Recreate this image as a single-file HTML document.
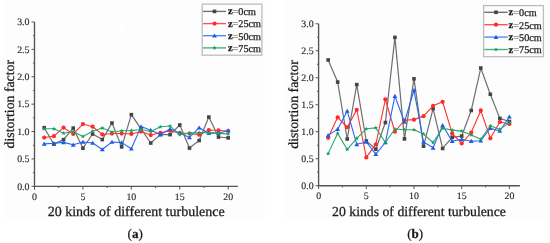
<!DOCTYPE html>
<html><head><meta charset="utf-8"><title>distortion factor</title>
<style>
html,body{margin:0;padding:0;background:#fff;}
body{width:550px;height:243px;overflow:hidden;}
svg{display:block;text-rendering:geometricPrecision;}
text{font-family:"Liberation Serif", "Times New Roman", serif;fill:#1a1a1a;stroke:#1a1a1a;stroke-width:0.25px;}
.tl{font-size:9.9px;fill:#2a2a2a;stroke:#2a2a2a;stroke-width:0.15px;}
.lg{font-size:10.2px;fill:#1a1a1a;}
.z{font-weight:bold;font-size:10.6px;}
.eq{fill:#8a8a8a;stroke:#8a8a8a;}
.cap{font-size:13px;}
.capb{font-weight:bold;}
</style></head>
<body>
<svg width="550" height="243" viewBox="0 0 550 243">
<rect width="550" height="243" fill="#fff"/>
<rect x="2" y="0" width="263" height="218" fill="#fdfdfd"/>
<rect x="283" y="0" width="264" height="218.5" fill="#fdfdfd"/>
<rect x="118.6" y="23.8" width="7" height="7.8" fill="#fff"/>
<path d="M34.50,21.99 V186.30 H237.89" fill="none" stroke="#555555" stroke-width="1.35"/>
<path d="M31.50,186.30 H34.50 M32.90,172.61 H34.50 M31.50,158.92 H34.50 M32.90,145.22 H34.50 M31.50,131.53 H34.50 M32.90,117.84 H34.50 M31.50,104.15 H34.50 M32.90,90.45 H34.50 M31.50,76.76 H34.50 M32.90,63.07 H34.50 M31.50,49.38 H34.50 M32.90,35.68 H34.50 M31.50,21.99 H34.50 M34.50,186.30 V189.60 M58.71,186.30 V188.00 M82.93,186.30 V189.60 M107.14,186.30 V188.00 M131.35,186.30 V189.60 M155.56,186.30 V188.00 M179.78,186.30 V189.60 M203.99,186.30 V188.00 M228.20,186.30 V189.60" fill="none" stroke="#555555" stroke-width="1"/>
<text x="29.50" y="189.60" text-anchor="end" class="tl">0.0</text>
<text x="29.50" y="162.22" text-anchor="end" class="tl">0.5</text>
<text x="29.50" y="134.83" text-anchor="end" class="tl">1.0</text>
<text x="29.50" y="107.45" text-anchor="end" class="tl">1.5</text>
<text x="29.50" y="80.06" text-anchor="end" class="tl">2.0</text>
<text x="29.50" y="52.67" text-anchor="end" class="tl">2.5</text>
<text x="29.50" y="25.29" text-anchor="end" class="tl">3.0</text>
<text x="34.50" y="199.90" text-anchor="middle" class="tl">0</text>
<text x="82.93" y="199.90" text-anchor="middle" class="tl">5</text>
<text x="131.35" y="199.90" text-anchor="middle" class="tl">10</text>
<text x="179.78" y="199.90" text-anchor="middle" class="tl">15</text>
<text x="228.20" y="199.90" text-anchor="middle" class="tl">20</text>
<text x="136.20" y="216.00" text-anchor="middle" style="font-size:14.0px">20 kinds of different turbulence</text>
<text transform="translate(14.40,104.20) rotate(-90)" text-anchor="middle" style="font-size:13.8px">distortion factor</text>
<text x="135.20" y="237.70" text-anchor="middle" class="cap">(<tspan class="capb">a</tspan>)</text>
<polyline points="44.19,127.70 53.87,144.13 63.55,139.64 73.24,128.13 82.93,148.23 92.61,133.99 102.30,139.58 111.98,123.04 121.67,146.87 131.35,114.66 141.04,128.96 150.72,143.03 160.41,134.65 170.09,134.65 179.78,124.96 189.46,148.07 199.15,140.51 208.83,117.07 218.52,137.01 228.20,137.88" fill="none" stroke="#6e6e6e" stroke-width="1.2" stroke-linejoin="round"/>
<rect x="42.39" y="125.90" width="3.60" height="3.60" fill="#444444"/>
<rect x="52.07" y="142.33" width="3.60" height="3.60" fill="#444444"/>
<rect x="61.76" y="137.84" width="3.60" height="3.60" fill="#444444"/>
<rect x="71.44" y="126.33" width="3.60" height="3.60" fill="#444444"/>
<rect x="81.13" y="146.43" width="3.60" height="3.60" fill="#444444"/>
<rect x="90.81" y="132.19" width="3.60" height="3.60" fill="#444444"/>
<rect x="100.50" y="137.78" width="3.60" height="3.60" fill="#444444"/>
<rect x="110.18" y="121.24" width="3.60" height="3.60" fill="#444444"/>
<rect x="119.87" y="145.07" width="3.60" height="3.60" fill="#444444"/>
<rect x="129.55" y="112.86" width="3.60" height="3.60" fill="#444444"/>
<rect x="139.24" y="127.16" width="3.60" height="3.60" fill="#444444"/>
<rect x="148.92" y="141.23" width="3.60" height="3.60" fill="#444444"/>
<rect x="158.60" y="132.85" width="3.60" height="3.60" fill="#444444"/>
<rect x="168.29" y="132.85" width="3.60" height="3.60" fill="#444444"/>
<rect x="177.97" y="123.16" width="3.60" height="3.60" fill="#444444"/>
<rect x="187.66" y="146.27" width="3.60" height="3.60" fill="#444444"/>
<rect x="197.34" y="138.71" width="3.60" height="3.60" fill="#444444"/>
<rect x="207.03" y="115.27" width="3.60" height="3.60" fill="#444444"/>
<rect x="216.72" y="135.21" width="3.60" height="3.60" fill="#444444"/>
<rect x="226.40" y="136.08" width="3.60" height="3.60" fill="#444444"/>
<polyline points="44.19,137.55 53.87,136.19 63.55,127.59 73.24,133.99 82.93,124.08 92.61,126.71 102.30,134.43 111.98,133.56 121.67,133.56 131.35,133.94 141.04,131.53 150.72,135.09 160.41,132.73 170.09,130.76 179.78,133.17 189.46,133.56 199.15,134.65 208.83,130.05 218.52,130.43 228.20,130.98" fill="none" stroke="#ff3030" stroke-width="1.1" stroke-linejoin="round"/>
<circle cx="44.19" cy="137.55" r="2.10" fill="#ff2a2a"/>
<circle cx="53.87" cy="136.19" r="2.10" fill="#ff2a2a"/>
<circle cx="63.55" cy="127.59" r="2.10" fill="#ff2a2a"/>
<circle cx="73.24" cy="133.99" r="2.10" fill="#ff2a2a"/>
<circle cx="82.93" cy="124.08" r="2.10" fill="#ff2a2a"/>
<circle cx="92.61" cy="126.71" r="2.10" fill="#ff2a2a"/>
<circle cx="102.30" cy="134.43" r="2.10" fill="#ff2a2a"/>
<circle cx="111.98" cy="133.56" r="2.10" fill="#ff2a2a"/>
<circle cx="121.67" cy="133.56" r="2.10" fill="#ff2a2a"/>
<circle cx="131.35" cy="133.94" r="2.10" fill="#ff2a2a"/>
<circle cx="141.04" cy="131.53" r="2.10" fill="#ff2a2a"/>
<circle cx="150.72" cy="135.09" r="2.10" fill="#ff2a2a"/>
<circle cx="160.41" cy="132.73" r="2.10" fill="#ff2a2a"/>
<circle cx="170.09" cy="130.76" r="2.10" fill="#ff2a2a"/>
<circle cx="179.78" cy="133.17" r="2.10" fill="#ff2a2a"/>
<circle cx="189.46" cy="133.56" r="2.10" fill="#ff2a2a"/>
<circle cx="199.15" cy="134.65" r="2.10" fill="#ff2a2a"/>
<circle cx="208.83" cy="130.05" r="2.10" fill="#ff2a2a"/>
<circle cx="218.52" cy="130.43" r="2.10" fill="#ff2a2a"/>
<circle cx="228.20" cy="130.98" r="2.10" fill="#ff2a2a"/>
<polyline points="44.19,143.85 53.87,143.31 63.55,142.37 73.24,144.84 82.93,141.94 92.61,143.03 102.30,149.49 111.98,141.94 121.67,142.59 131.35,148.78 141.04,126.60 150.72,130.16 160.41,134.43 170.09,128.96 179.78,132.90 189.46,137.45 199.15,127.70 208.83,133.17 218.52,133.17 228.20,130.43" fill="none" stroke="#2a66f0" stroke-width="1.1" stroke-linejoin="round"/>
<polygon points="44.19,141.55 46.60,145.69 41.77,145.69" fill="#1f5ce6"/>
<polygon points="53.87,141.01 56.29,145.15 51.46,145.15" fill="#1f5ce6"/>
<polygon points="63.55,140.07 65.97,144.21 61.14,144.21" fill="#1f5ce6"/>
<polygon points="73.24,142.54 75.66,146.68 70.83,146.68" fill="#1f5ce6"/>
<polygon points="82.93,139.64 85.34,143.78 80.51,143.78" fill="#1f5ce6"/>
<polygon points="92.61,140.73 95.03,144.87 90.19,144.87" fill="#1f5ce6"/>
<polygon points="102.30,147.19 104.71,151.33 99.88,151.33" fill="#1f5ce6"/>
<polygon points="111.98,139.64 114.40,143.78 109.56,143.78" fill="#1f5ce6"/>
<polygon points="121.67,140.29 124.08,144.43 119.25,144.43" fill="#1f5ce6"/>
<polygon points="131.35,146.48 133.77,150.62 128.94,150.62" fill="#1f5ce6"/>
<polygon points="141.04,124.30 143.45,128.44 138.62,128.44" fill="#1f5ce6"/>
<polygon points="150.72,127.86 153.13,132.00 148.31,132.00" fill="#1f5ce6"/>
<polygon points="160.41,132.13 162.82,136.27 157.99,136.27" fill="#1f5ce6"/>
<polygon points="170.09,126.66 172.50,130.80 167.68,130.80" fill="#1f5ce6"/>
<polygon points="179.78,130.60 182.19,134.74 177.36,134.74" fill="#1f5ce6"/>
<polygon points="189.46,135.15 191.88,139.29 187.05,139.29" fill="#1f5ce6"/>
<polygon points="199.15,125.40 201.56,129.54 196.73,129.54" fill="#1f5ce6"/>
<polygon points="208.83,130.87 211.25,135.01 206.42,135.01" fill="#1f5ce6"/>
<polygon points="218.52,130.87 220.93,135.01 216.10,135.01" fill="#1f5ce6"/>
<polygon points="228.20,128.13 230.62,132.27 225.79,132.27" fill="#1f5ce6"/>
<polyline points="44.19,128.79 53.87,128.79 63.55,133.23 73.24,131.53 82.93,136.51 92.61,131.20 102.30,128.08 111.98,132.08 121.67,130.76 131.35,130.65 141.04,129.50 150.72,131.53 160.41,126.77 170.09,126.05 179.78,134.65 189.46,133.17 199.15,132.63 208.83,132.63 218.52,133.17 228.20,134.10" fill="none" stroke="#2aa86a" stroke-width="1.1" stroke-linejoin="round"/>
<polygon points="44.19,126.49 44.77,127.98 46.37,128.08 45.14,129.10 45.54,130.65 44.19,129.79 42.83,130.65 43.23,129.10 42.00,128.08 43.60,127.98" fill="#18a062"/>
<polygon points="53.87,126.49 54.46,127.98 56.06,128.08 54.82,129.10 55.22,130.65 53.87,129.79 52.52,130.65 52.92,129.10 51.68,128.08 53.28,127.98" fill="#18a062"/>
<polygon points="63.55,130.93 64.14,132.42 65.74,132.52 64.51,133.54 64.91,135.09 63.55,134.23 62.20,135.09 62.60,133.54 61.37,132.52 62.97,132.42" fill="#18a062"/>
<polygon points="73.24,129.23 73.83,130.72 75.43,130.82 74.19,131.84 74.59,133.39 73.24,132.53 71.89,133.39 72.29,131.84 71.05,130.82 72.65,130.72" fill="#18a062"/>
<polygon points="82.93,134.21 83.51,135.71 85.11,135.80 83.88,136.82 84.28,138.37 82.93,137.51 81.57,138.37 81.97,136.82 80.74,135.80 82.34,135.71" fill="#18a062"/>
<polygon points="92.61,128.90 93.20,130.39 94.80,130.49 93.56,131.51 93.96,133.06 92.61,132.20 91.26,133.06 91.66,131.51 90.42,130.49 92.02,130.39" fill="#18a062"/>
<polygon points="102.30,125.78 102.88,127.27 104.48,127.37 103.25,128.39 103.65,129.94 102.30,129.08 100.94,129.94 101.34,128.39 100.11,127.37 101.71,127.27" fill="#18a062"/>
<polygon points="111.98,129.78 112.57,131.27 114.17,131.37 112.93,132.39 113.33,133.94 111.98,133.08 110.63,133.94 111.03,132.39 109.79,131.37 111.39,131.27" fill="#18a062"/>
<polygon points="121.67,128.46 122.25,129.95 123.85,130.05 122.62,131.07 123.02,132.62 121.67,131.76 120.31,132.62 120.71,131.07 119.48,130.05 121.08,129.95" fill="#18a062"/>
<polygon points="131.35,128.35 131.94,129.84 133.54,129.94 132.30,130.96 132.70,132.51 131.35,131.65 130.00,132.51 130.40,130.96 129.16,129.94 130.76,129.84" fill="#18a062"/>
<polygon points="141.04,127.20 141.62,128.69 143.22,128.79 141.99,129.81 142.39,131.36 141.04,130.50 139.68,131.36 140.08,129.81 138.85,128.79 140.45,128.69" fill="#18a062"/>
<polygon points="150.72,129.23 151.31,130.72 152.91,130.82 151.67,131.84 152.07,133.39 150.72,132.53 149.37,133.39 149.77,131.84 148.53,130.82 150.13,130.72" fill="#18a062"/>
<polygon points="160.41,124.47 160.99,125.96 162.59,126.05 161.36,127.07 161.76,128.63 160.41,127.77 159.05,128.63 159.45,127.07 158.22,126.05 159.82,125.96" fill="#18a062"/>
<polygon points="170.09,123.75 170.68,125.24 172.28,125.34 171.04,126.36 171.44,127.91 170.09,127.05 168.74,127.91 169.14,126.36 167.90,125.34 169.50,125.24" fill="#18a062"/>
<polygon points="179.78,132.35 180.36,133.84 181.96,133.94 180.73,134.96 181.13,136.51 179.78,135.65 178.42,136.51 178.82,134.96 177.59,133.94 179.19,133.84" fill="#18a062"/>
<polygon points="189.46,130.87 190.05,132.36 191.65,132.46 190.41,133.48 190.81,135.03 189.46,134.17 188.11,135.03 188.51,133.48 187.27,132.46 188.87,132.36" fill="#18a062"/>
<polygon points="199.15,130.33 199.73,131.82 201.33,131.91 200.10,132.93 200.50,134.49 199.15,133.63 197.79,134.49 198.19,132.93 196.96,131.91 198.56,131.82" fill="#18a062"/>
<polygon points="208.83,130.33 209.42,131.82 211.02,131.91 209.78,132.93 210.18,134.49 208.83,133.63 207.48,134.49 207.88,132.93 206.64,131.91 208.24,131.82" fill="#18a062"/>
<polygon points="218.52,130.87 219.10,132.36 220.70,132.46 219.47,133.48 219.87,135.03 218.52,134.17 217.16,135.03 217.56,133.48 216.33,132.46 217.93,132.36" fill="#18a062"/>
<polygon points="228.20,131.80 228.79,133.30 230.39,133.39 229.15,134.41 229.55,135.96 228.20,135.10 226.85,135.96 227.25,134.41 226.01,133.39 227.61,133.30" fill="#18a062"/>
<rect x="202.20" y="4.10" width="59.70" height="51.10" fill="#fdfdfd" stroke="#bdbdbd" stroke-width="1.3"/>
<line x1="203.00" y1="11.40" x2="226.00" y2="11.40" stroke="#707070" stroke-width="1.35"/>
<rect x="212.70" y="9.60" width="3.60" height="3.60" fill="#444444"/>
<text x="227.90" y="15.20" class="lg"><tspan class="z" dy="-0.8">z</tspan><tspan class="eq" dy="0.8">=</tspan>0cm</text>
<line x1="203.00" y1="23.60" x2="226.00" y2="23.60" stroke="#ff5050" stroke-width="1.35"/>
<circle cx="214.50" cy="23.60" r="2.10" fill="#ff2a2a"/>
<text x="227.90" y="27.40" class="lg"><tspan class="z" dy="-0.8">z</tspan><tspan class="eq" dy="0.8">=</tspan>25cm</text>
<line x1="203.00" y1="35.70" x2="226.00" y2="35.70" stroke="#4f86f7" stroke-width="1.35"/>
<polygon points="214.50,33.40 216.91,37.54 212.09,37.54" fill="#1f5ce6"/>
<text x="227.90" y="39.50" class="lg"><tspan class="z" dy="-0.8">z</tspan><tspan class="eq" dy="0.8">=</tspan>50cm</text>
<line x1="203.00" y1="47.90" x2="226.00" y2="47.90" stroke="#3db574" stroke-width="1.35"/>
<polygon points="214.50,45.60 215.09,47.09 216.69,47.19 215.45,48.21 215.85,49.76 214.50,48.90 213.15,49.76 213.55,48.21 212.31,47.19 213.91,47.09" fill="#18a062"/>
<text x="227.90" y="51.70" class="lg"><tspan class="z" dy="-0.8">z</tspan><tspan class="eq" dy="0.8">=</tspan>75cm</text>
<path d="M318.60,23.79 V185.70 H519.89" fill="none" stroke="#555555" stroke-width="1.35"/>
<path d="M315.60,185.70 H318.60 M317.00,172.21 H318.60 M315.60,158.71 H318.60 M317.00,145.22 H318.60 M315.60,131.73 H318.60 M317.00,118.24 H318.60 M315.60,104.74 H318.60 M317.00,91.25 H318.60 M315.60,77.76 H318.60 M317.00,64.27 H318.60 M315.60,50.77 H318.60 M317.00,37.28 H318.60 M315.60,23.79 H318.60 M318.60,185.70 V189.00 M342.45,185.70 V187.40 M366.30,185.70 V189.00 M390.15,185.70 V187.40 M414.00,185.70 V189.00 M437.85,185.70 V187.40 M461.70,185.70 V189.00 M485.55,185.70 V187.40 M509.40,185.70 V189.00" fill="none" stroke="#555555" stroke-width="1"/>
<text x="313.60" y="189.00" text-anchor="end" class="tl">0.0</text>
<text x="313.60" y="162.01" text-anchor="end" class="tl">0.5</text>
<text x="313.60" y="135.03" text-anchor="end" class="tl">1.0</text>
<text x="313.60" y="108.04" text-anchor="end" class="tl">1.5</text>
<text x="313.60" y="81.06" text-anchor="end" class="tl">2.0</text>
<text x="313.60" y="54.07" text-anchor="end" class="tl">2.5</text>
<text x="313.60" y="27.09" text-anchor="end" class="tl">3.0</text>
<text x="318.60" y="199.30" text-anchor="middle" class="tl">0</text>
<text x="366.30" y="199.30" text-anchor="middle" class="tl">5</text>
<text x="414.00" y="199.30" text-anchor="middle" class="tl">10</text>
<text x="461.70" y="199.30" text-anchor="middle" class="tl">15</text>
<text x="509.40" y="199.30" text-anchor="middle" class="tl">20</text>
<text x="419.00" y="216.30" text-anchor="middle" style="font-size:13.75px">20 kinds of different turbulence</text>
<text transform="translate(297.70,104.50) rotate(-90)" text-anchor="middle" style="font-size:13.8px">distortion factor</text>
<text x="415.20" y="237.90" text-anchor="middle" class="cap">(<tspan class="capb">b</tspan>)</text>
<polyline points="328.14,59.95 337.68,82.08 347.22,139.02 356.76,84.61 366.30,141.01 375.84,149.22 385.38,122.56 394.92,37.39 404.46,138.91 414.00,78.84 423.54,146.14 433.08,108.63 442.62,148.46 452.16,137.29 461.70,136.05 471.24,110.47 480.78,68.05 490.32,94.27 499.86,118.40 509.40,121.48" fill="none" stroke="#6e6e6e" stroke-width="1.2" stroke-linejoin="round"/>
<rect x="326.34" y="58.15" width="3.60" height="3.60" fill="#444444"/>
<rect x="335.88" y="80.28" width="3.60" height="3.60" fill="#444444"/>
<rect x="345.42" y="137.22" width="3.60" height="3.60" fill="#444444"/>
<rect x="354.96" y="82.81" width="3.60" height="3.60" fill="#444444"/>
<rect x="364.50" y="139.21" width="3.60" height="3.60" fill="#444444"/>
<rect x="374.04" y="147.42" width="3.60" height="3.60" fill="#444444"/>
<rect x="383.58" y="120.76" width="3.60" height="3.60" fill="#444444"/>
<rect x="393.12" y="35.59" width="3.60" height="3.60" fill="#444444"/>
<rect x="402.66" y="137.11" width="3.60" height="3.60" fill="#444444"/>
<rect x="412.20" y="77.04" width="3.60" height="3.60" fill="#444444"/>
<rect x="421.74" y="144.34" width="3.60" height="3.60" fill="#444444"/>
<rect x="431.28" y="106.83" width="3.60" height="3.60" fill="#444444"/>
<rect x="440.82" y="146.66" width="3.60" height="3.60" fill="#444444"/>
<rect x="450.36" y="135.49" width="3.60" height="3.60" fill="#444444"/>
<rect x="459.90" y="134.25" width="3.60" height="3.60" fill="#444444"/>
<rect x="469.44" y="108.67" width="3.60" height="3.60" fill="#444444"/>
<rect x="478.98" y="66.25" width="3.60" height="3.60" fill="#444444"/>
<rect x="488.52" y="92.47" width="3.60" height="3.60" fill="#444444"/>
<rect x="498.06" y="116.60" width="3.60" height="3.60" fill="#444444"/>
<rect x="507.60" y="119.68" width="3.60" height="3.60" fill="#444444"/>
<polyline points="328.14,137.83 337.68,117.32 347.22,127.25 356.76,109.76 366.30,157.42 375.84,144.31 385.38,99.35 394.92,131.73 404.46,120.23 414.00,119.64 423.54,116.13 433.08,105.82 442.62,101.78 452.16,133.46 461.70,143.50 471.24,132.54 480.78,110.47 490.32,138.31 499.86,122.02 509.40,124.01" fill="none" stroke="#ff3030" stroke-width="1.1" stroke-linejoin="round"/>
<circle cx="328.14" cy="137.83" r="2.10" fill="#ff2a2a"/>
<circle cx="337.68" cy="117.32" r="2.10" fill="#ff2a2a"/>
<circle cx="347.22" cy="127.25" r="2.10" fill="#ff2a2a"/>
<circle cx="356.76" cy="109.76" r="2.10" fill="#ff2a2a"/>
<circle cx="366.30" cy="157.42" r="2.10" fill="#ff2a2a"/>
<circle cx="375.84" cy="144.31" r="2.10" fill="#ff2a2a"/>
<circle cx="385.38" cy="99.35" r="2.10" fill="#ff2a2a"/>
<circle cx="394.92" cy="131.73" r="2.10" fill="#ff2a2a"/>
<circle cx="404.46" cy="120.23" r="2.10" fill="#ff2a2a"/>
<circle cx="414.00" cy="119.64" r="2.10" fill="#ff2a2a"/>
<circle cx="423.54" cy="116.13" r="2.10" fill="#ff2a2a"/>
<circle cx="433.08" cy="105.82" r="2.10" fill="#ff2a2a"/>
<circle cx="442.62" cy="101.78" r="2.10" fill="#ff2a2a"/>
<circle cx="452.16" cy="133.46" r="2.10" fill="#ff2a2a"/>
<circle cx="461.70" cy="143.50" r="2.10" fill="#ff2a2a"/>
<circle cx="471.24" cy="132.54" r="2.10" fill="#ff2a2a"/>
<circle cx="480.78" cy="110.47" r="2.10" fill="#ff2a2a"/>
<circle cx="490.32" cy="138.31" r="2.10" fill="#ff2a2a"/>
<circle cx="499.86" cy="122.02" r="2.10" fill="#ff2a2a"/>
<circle cx="509.40" cy="124.01" r="2.10" fill="#ff2a2a"/>
<polyline points="328.14,135.35 337.68,129.14 347.22,110.95 356.76,144.31 366.30,141.98 375.84,154.13 385.38,142.52 394.92,96.11 404.46,122.02 414.00,90.28 423.54,141.98 433.08,147.81 442.62,125.36 452.16,141.17 461.70,139.29 471.24,141.17 480.78,140.69 490.32,128.22 499.86,131.03 509.40,116.73" fill="none" stroke="#2a66f0" stroke-width="1.1" stroke-linejoin="round"/>
<polygon points="328.14,133.05 330.56,137.19 325.73,137.19" fill="#1f5ce6"/>
<polygon points="337.68,126.84 340.10,130.98 335.26,130.98" fill="#1f5ce6"/>
<polygon points="347.22,108.65 349.64,112.79 344.81,112.79" fill="#1f5ce6"/>
<polygon points="356.76,142.01 359.18,146.15 354.34,146.15" fill="#1f5ce6"/>
<polygon points="366.30,139.68 368.72,143.82 363.88,143.82" fill="#1f5ce6"/>
<polygon points="375.84,151.83 378.26,155.97 373.43,155.97" fill="#1f5ce6"/>
<polygon points="385.38,140.22 387.80,144.36 382.96,144.36" fill="#1f5ce6"/>
<polygon points="394.92,93.81 397.34,97.95 392.50,97.95" fill="#1f5ce6"/>
<polygon points="404.46,119.72 406.88,123.86 402.05,123.86" fill="#1f5ce6"/>
<polygon points="414.00,87.98 416.42,92.12 411.58,92.12" fill="#1f5ce6"/>
<polygon points="423.54,139.68 425.96,143.82 421.12,143.82" fill="#1f5ce6"/>
<polygon points="433.08,145.51 435.50,149.65 430.67,149.65" fill="#1f5ce6"/>
<polygon points="442.62,123.06 445.04,127.20 440.20,127.20" fill="#1f5ce6"/>
<polygon points="452.16,138.87 454.58,143.01 449.75,143.01" fill="#1f5ce6"/>
<polygon points="461.70,136.99 464.12,141.13 459.29,141.13" fill="#1f5ce6"/>
<polygon points="471.24,138.87 473.66,143.01 468.82,143.01" fill="#1f5ce6"/>
<polygon points="480.78,138.39 483.19,142.53 478.36,142.53" fill="#1f5ce6"/>
<polygon points="490.32,125.92 492.74,130.06 487.90,130.06" fill="#1f5ce6"/>
<polygon points="499.86,128.73 502.28,132.87 497.44,132.87" fill="#1f5ce6"/>
<polygon points="509.40,114.43 511.81,118.57 506.98,118.57" fill="#1f5ce6"/>
<polyline points="328.14,153.64 337.68,133.35 347.22,149.43 356.76,138.42 366.30,128.82 375.84,127.84 385.38,142.52 394.92,129.03 404.46,129.73 414.00,129.73 423.54,134.05 433.08,142.52 442.62,128.22 452.16,130.11 461.70,131.08 471.24,134.97 480.78,139.23 490.32,125.69 499.86,129.41 509.40,122.66" fill="none" stroke="#2aa86a" stroke-width="1.1" stroke-linejoin="round"/>
<polygon points="328.14,151.34 328.73,152.83 330.33,152.93 329.09,153.95 329.49,155.50 328.14,154.64 326.79,155.50 327.19,153.95 325.95,152.93 327.55,152.83" fill="#18a062"/>
<polygon points="337.68,131.05 338.27,132.54 339.87,132.64 338.63,133.66 339.03,135.21 337.68,134.35 336.33,135.21 336.73,133.66 335.49,132.64 337.09,132.54" fill="#18a062"/>
<polygon points="347.22,147.13 347.81,148.62 349.41,148.72 348.17,149.74 348.57,151.29 347.22,150.43 345.87,151.29 346.27,149.74 345.03,148.72 346.63,148.62" fill="#18a062"/>
<polygon points="356.76,136.12 357.35,137.61 358.95,137.71 357.71,138.73 358.11,140.28 356.76,139.42 355.41,140.28 355.81,138.73 354.57,137.71 356.17,137.61" fill="#18a062"/>
<polygon points="366.30,126.52 366.89,128.01 368.49,128.10 367.25,129.12 367.65,130.68 366.30,129.82 364.95,130.68 365.35,129.12 364.11,128.10 365.71,128.01" fill="#18a062"/>
<polygon points="375.84,125.54 376.43,127.04 378.03,127.13 376.79,128.15 377.19,129.70 375.84,128.84 374.49,129.70 374.89,128.15 373.65,127.13 375.25,127.04" fill="#18a062"/>
<polygon points="385.38,140.22 385.97,141.71 387.57,141.81 386.33,142.83 386.73,144.38 385.38,143.52 384.03,144.38 384.43,142.83 383.19,141.81 384.79,141.71" fill="#18a062"/>
<polygon points="394.92,126.73 395.51,128.22 397.11,128.32 395.87,129.34 396.27,130.89 394.92,130.03 393.57,130.89 393.97,129.34 392.73,128.32 394.33,128.22" fill="#18a062"/>
<polygon points="404.46,127.43 405.05,128.92 406.65,129.02 405.41,130.04 405.81,131.59 404.46,130.73 403.11,131.59 403.51,130.04 402.27,129.02 403.87,128.92" fill="#18a062"/>
<polygon points="414.00,127.43 414.59,128.92 416.19,129.02 414.95,130.04 415.35,131.59 414.00,130.73 412.65,131.59 413.05,130.04 411.81,129.02 413.41,128.92" fill="#18a062"/>
<polygon points="423.54,131.75 424.13,133.24 425.73,133.34 424.49,134.36 424.89,135.91 423.54,135.05 422.19,135.91 422.59,134.36 421.35,133.34 422.95,133.24" fill="#18a062"/>
<polygon points="433.08,140.22 433.67,141.71 435.27,141.81 434.03,142.83 434.43,144.38 433.08,143.52 431.73,144.38 432.13,142.83 430.89,141.81 432.49,141.71" fill="#18a062"/>
<polygon points="442.62,125.92 443.21,127.41 444.81,127.51 443.57,128.53 443.97,130.08 442.62,129.22 441.27,130.08 441.67,128.53 440.43,127.51 442.03,127.41" fill="#18a062"/>
<polygon points="452.16,127.81 452.75,129.30 454.35,129.40 453.11,130.42 453.51,131.97 452.16,131.11 450.81,131.97 451.21,130.42 449.97,129.40 451.57,129.30" fill="#18a062"/>
<polygon points="461.70,128.78 462.29,130.27 463.89,130.37 462.65,131.39 463.05,132.94 461.70,132.08 460.35,132.94 460.75,131.39 459.51,130.37 461.11,130.27" fill="#18a062"/>
<polygon points="471.24,132.67 471.83,134.16 473.43,134.26 472.19,135.28 472.59,136.83 471.24,135.97 469.89,136.83 470.29,135.28 469.05,134.26 470.65,134.16" fill="#18a062"/>
<polygon points="480.78,136.93 481.37,138.42 482.97,138.52 481.73,139.54 482.13,141.09 480.78,140.23 479.43,141.09 479.83,139.54 478.59,138.52 480.19,138.42" fill="#18a062"/>
<polygon points="490.32,123.39 490.91,124.88 492.51,124.97 491.27,125.99 491.67,127.55 490.32,126.69 488.97,127.55 489.37,125.99 488.13,124.97 489.73,124.88" fill="#18a062"/>
<polygon points="499.86,127.11 500.45,128.60 502.05,128.70 500.81,129.72 501.21,131.27 499.86,130.41 498.51,131.27 498.91,129.72 497.67,128.70 499.27,128.60" fill="#18a062"/>
<polygon points="509.40,120.36 509.99,121.85 511.59,121.95 510.35,122.97 510.75,124.52 509.40,123.66 508.05,124.52 508.45,122.97 507.21,121.95 508.81,121.85" fill="#18a062"/>
<rect x="483.60" y="5.60" width="59.80" height="51.10" fill="#fdfdfd" stroke="#bdbdbd" stroke-width="1.3"/>
<line x1="484.30" y1="12.30" x2="507.70" y2="12.30" stroke="#707070" stroke-width="1.35"/>
<rect x="494.20" y="10.50" width="3.60" height="3.60" fill="#444444"/>
<text x="508.60" y="16.10" class="lg"><tspan class="z" dy="-0.8">z</tspan><tspan class="eq" dy="0.8">=</tspan>0cm</text>
<line x1="484.30" y1="24.70" x2="507.70" y2="24.70" stroke="#ff5050" stroke-width="1.35"/>
<circle cx="496.00" cy="24.70" r="2.10" fill="#ff2a2a"/>
<text x="508.60" y="28.50" class="lg"><tspan class="z" dy="-0.8">z</tspan><tspan class="eq" dy="0.8">=</tspan>25cm</text>
<line x1="484.30" y1="37.10" x2="507.70" y2="37.10" stroke="#4f86f7" stroke-width="1.35"/>
<polygon points="496.00,34.80 498.42,38.94 493.58,38.94" fill="#1f5ce6"/>
<text x="508.60" y="40.90" class="lg"><tspan class="z" dy="-0.8">z</tspan><tspan class="eq" dy="0.8">=</tspan>50cm</text>
<line x1="484.30" y1="49.50" x2="507.70" y2="49.50" stroke="#3db574" stroke-width="1.35"/>
<polygon points="496.00,47.20 496.59,48.69 498.19,48.79 496.95,49.81 497.35,51.36 496.00,50.50 494.65,51.36 495.05,49.81 493.81,48.79 495.41,48.69" fill="#18a062"/>
<text x="508.60" y="53.30" class="lg"><tspan class="z" dy="-0.8">z</tspan><tspan class="eq" dy="0.8">=</tspan>75cm</text>
</svg>
</body></html>
